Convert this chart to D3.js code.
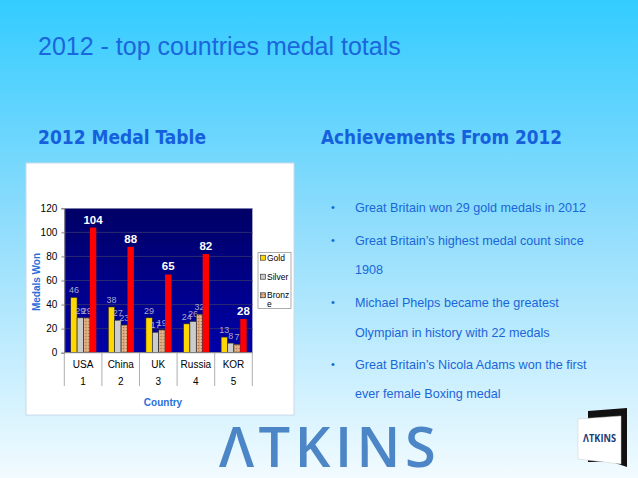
<!DOCTYPE html>
<html><head><meta charset="utf-8">
<script src="https://cdn.jsdelivr.net/npm/d3@7"></script>
<style>html,body{margin:0;padding:0;overflow:hidden}svg{display:block}</style>
</head><body>
<script>
const countries = ["USA", "China", "UK", "Russia", "KOR"];
const ranks = ["1", "2", "3", "4", "5"];
const gold = [46, 38, 29, 24, 13];
const silver = [29, 27, 17, 26, 8];
const bronze = [29, 23, 19, 32, 7];
const total = [104, 88, 65, 82, 28];
const yTicks = [0, 20, 40, 60, 80, 100, 120];
const legendLabels = ["Gold", "Silver", "Bronze"];
const bullets = [
  ["Great Britain won 29 gold medals in 2012"],
  ["Great Britain\u2019s highest medal count since", "1908"],
  ["Michael Phelps became the greatest", "Olympian in history with 22 medals"],
  ["Great Britain\u2019s Nicola Adams won the first", "ever female Boxing medal"]
];

const W = 638, H = 478;
const svg = d3.select("body").append("svg").attr("width", W).attr("height", H);
const defs = svg.append("defs");

// page background gradient
const bg = defs.append("linearGradient").attr("id", "bg").attr("x1", 0).attr("y1", 0).attr("x2", 0).attr("y2", 1);
bg.append("stop").attr("offset", "0").attr("stop-color", "#33ccff");
bg.append("stop").attr("offset", "0.45").attr("stop-color", "#8cdcfc");
bg.append("stop").attr("offset", "1").attr("stop-color", "#f2fbff");
svg.append("rect").attr("width", W).attr("height", H).attr("fill", "url(#bg)");

// plot gradient
const pg = defs.append("linearGradient").attr("id", "pg").attr("x1", 0).attr("y1", 0).attr("x2", 0).attr("y2", 1);
pg.append("stop").attr("offset", "0").attr("stop-color", "#000066");
pg.append("stop").attr("offset", "1").attr("stop-color", "#0000a8");

// bronze pattern
const pat = defs.append("pattern").attr("id", "bz").attr("width", 3).attr("height", 3).attr("patternUnits", "userSpaceOnUse");
pat.append("rect").attr("width", 3).attr("height", 3).attr("fill", "#d8a67c");
pat.append("rect").attr("x", 0).attr("y", 0).attr("width", 1).attr("height", 1).attr("fill", "#a8704a");
pat.append("rect").attr("x", 2).attr("y", 1.5).attr("width", 1).attr("height", 1).attr("fill", "#f0d0b0");

// Titles
svg.append("text").attr("x", 38).attr("y", 55).attr("font-family", "Liberation Sans, Arial, sans-serif")
  .attr("font-size", 25).attr("fill", "#1a66dd").text("2012 - top countries medal totals");
svg.append("text").attr("x", 38).attr("y", 144).attr("font-family", "DejaVu Sans Condensed, DejaVu Sans, sans-serif")
  .attr("font-weight", "bold").attr("font-size", 19).attr("fill", "#1560dd")
  .attr("textLength", 168).attr("lengthAdjust", "spacingAndGlyphs").text("2012 Medal Table");
svg.append("text").attr("x", 321).attr("y", 144).attr("font-family", "DejaVu Sans Condensed, DejaVu Sans, sans-serif")
  .attr("font-weight", "bold").attr("font-size", 19).attr("fill", "#1560dd")
  .attr("textLength", 241).attr("lengthAdjust", "spacingAndGlyphs").text("Achievements From 2012");

// bullets
const lineYs = [[207], [240, 269], [302, 332], [364, 393]];
const bg2 = svg.append("g").attr("font-family", "Liberation Sans, Arial, sans-serif").attr("fill", "#1a66d8");
bullets.forEach((b, i) => {
  bg2.append("text").attr("x", 331).attr("y", lineYs[i][0] + 4).attr("font-size", 11).text("\u2022");
  b.forEach((t, j) => {
    bg2.append("text").attr("x", 355).attr("y", lineYs[i][j] + 4.5).attr("font-size", 12.6).text(t);
  });
});

// Chart panel
svg.append("rect").attr("x", 26).attr("y", 163).attr("width", 268).attr("height", 252)
  .attr("fill", "#fff").attr("stroke", "#c8d8e8").attr("stroke-width", 1);

const plot = {x0: 64.3, x1: 252.3, y0: 208.3, y1: 352.7};
const x = d3.scaleBand().domain(countries).range([plot.x0, plot.x1]).paddingInner(0).paddingOuter(0);
const y = d3.scaleLinear().domain([0, 120]).range([plot.y1, plot.y0]);
const series = ["gold", "silver", "bronze", "total"];
const vals = {gold, silver, bronze, total};
const x1 = d3.scaleBand().domain(series).range([x.bandwidth() * 0.17, x.bandwidth() * 0.85]);
const fills = {gold: "#ffd700", silver: "#cccccc", bronze: "url(#bz)", total: "#ff0000"};

svg.append("rect").attr("x", plot.x0).attr("y", plot.y0).attr("width", plot.x1 - plot.x0).attr("height", plot.y1 - plot.y0)
  .attr("fill", "url(#pg)").attr("stroke", "#9999bb").attr("stroke-width", 0.6);

// gridlines
svg.append("g").selectAll("line").data(yTicks.filter(d => d > 0 && d < 120)).join("line")
  .attr("x1", plot.x0).attr("x2", plot.x1).attr("y1", d => y(d)).attr("y2", d => y(d))
  .attr("stroke", "#2a2a70").attr("stroke-width", 1);

// y axis
const yAxis = svg.append("g").attr("transform", `translate(${plot.x0},0)`)
  .call(d3.axisLeft(y).tickValues(yTicks).tickSize(3).tickPadding(4));
yAxis.select(".domain").attr("stroke", "#888");
yAxis.selectAll(".tick line").attr("stroke", "#888");
yAxis.selectAll("text").attr("font-family", "Liberation Sans, Arial, sans-serif").attr("font-size", 10).attr("fill", "#000");

// bars
const groups = svg.append("g").selectAll("g").data(countries).join("g")
  .attr("transform", d => `translate(${x(d)},0)`);
groups.each(function(c, i) {
  const g = d3.select(this);
  series.forEach(s => {
    const v = vals[s][i];
    g.append("rect").attr("x", x1(s)).attr("y", y(v)).attr("width", x1.bandwidth()).attr("height", y(0) - y(v))
      .attr("fill", fills[s]).attr("stroke", s === "total" ? "none" : "#222").attr("stroke-width", 0.6);
    if (s === "total") {
      g.append("text").attr("x", x1(s) + x1.bandwidth() / 2).attr("y", y(v) - 4)
        .attr("text-anchor", "middle").attr("font-family", "Liberation Sans, Arial, sans-serif")
        .attr("font-weight", "bold").attr("font-size", 11.5).attr("fill", "#fff").text(v);
    } else {
      g.append("text").attr("x", x1(s) + x1.bandwidth() / 2).attr("y", y(v) - 4)
        .attr("text-anchor", "middle").attr("font-family", "Liberation Sans, Arial, sans-serif")
        .attr("font-size", 9).attr("fill", "#a8a8c8").text(v);
    }
  });
});

// category axis
const cat = svg.append("g");
cat.selectAll("line").data(d3.range(countries.length + 1)).join("line")
  .attr("x1", i => plot.x0 + i * x.bandwidth()).attr("x2", i => plot.x0 + i * x.bandwidth())
  .attr("y1", plot.y1).attr("y2", 386).attr("stroke", "#999").attr("stroke-width", 0.8);
cat.append("line").attr("x1", plot.x0).attr("x2", plot.x1).attr("y1", plot.y1).attr("y2", plot.y1).attr("stroke", "#888");
cat.selectAll("text.c").data(countries).join("text").attr("class", "c")
  .attr("x", d => x(d) + x.bandwidth() / 2).attr("y", 368).attr("text-anchor", "middle")
  .attr("font-family", "Liberation Sans, Arial, sans-serif").attr("font-size", 10).text(d => d);
cat.selectAll("text.r").data(ranks).join("text").attr("class", "r")
  .attr("x", (d, i) => x(countries[i]) + x.bandwidth() / 2).attr("y", 384.5).attr("text-anchor", "middle")
  .attr("font-family", "Liberation Sans, Arial, sans-serif").attr("font-size", 10).text(d => d);

svg.append("text").attr("x", 163).attr("y", 406).attr("text-anchor", "middle")
  .attr("font-family", "Liberation Sans, Arial, sans-serif").attr("font-weight", "bold").attr("font-size", 10)
  .attr("fill", "#2a6fd8").text("Country");
svg.append("text").attr("transform", "translate(40,282) rotate(-90)").attr("text-anchor", "middle")
  .attr("font-family", "Liberation Sans, Arial, sans-serif").attr("font-weight", "bold").attr("font-size", 10)
  .attr("fill", "#2a6fd8").text("Medals Won");

// legend
const lg = svg.append("g");
lg.append("rect").attr("x", 258).attr("y", 252.5).attr("width", 33).attr("height", 56)
  .attr("fill", "#fff").attr("stroke", "#999").attr("stroke-width", 0.8);
const legY = [257.7, 276.7, 295.3];
legendLabels.forEach((l, i) => {
  lg.append("rect").attr("x", 260.5).attr("y", legY[i] - 2.5).attr("width", 5).attr("height", 5)
    .attr("fill", fills[series[i]]).attr("stroke", "#222").attr("stroke-width", 0.6);
  const t = lg.append("text").attr("x", 267).attr("y", legY[i] + 3).attr("font-family", "Liberation Sans, Arial, sans-serif")
    .attr("font-size", 8.5).attr("fill", "#000");
  if (l === "Bronze") {
    t.text("Bronz");
    lg.append("text").attr("x", 267).attr("y", legY[i] + 11.5).attr("font-family", "Liberation Sans, Arial, sans-serif")
      .attr("font-size", 8.5).text("e");
  } else t.text(l);
});

// big logo
svg.append("text").attr("x", 219).attr("y", 467).attr("font-family", "Open Sans, Lato, sans-serif")
  .attr("font-weight", 600).attr("font-size", 56).attr("fill", "#4d86c6")
  .attr("letter-spacing", 4.5).text("\u039BTKINS");

// small logo
svg.append("path").attr("d", "M588,411 L627,408 L627,467 L612,462 L588,462 Z").attr("fill", "#111");
svg.append("path").attr("d", "M578,419 L621,416 L621,464 L578,459 Z").attr("fill", "#fff").attr("stroke", "#ccc").attr("stroke-width", 0.5);
svg.append("text").attr("x", 583).attr("y", 442).attr("font-family", "Open Sans, Lato, sans-serif")
  .attr("font-weight", 700).attr("font-size", 10.5).attr("fill", "#1d3a78")
  .attr("textLength", 33).attr("lengthAdjust", "spacingAndGlyphs").text("\u039BTKINS");
</script>
</body></html>
